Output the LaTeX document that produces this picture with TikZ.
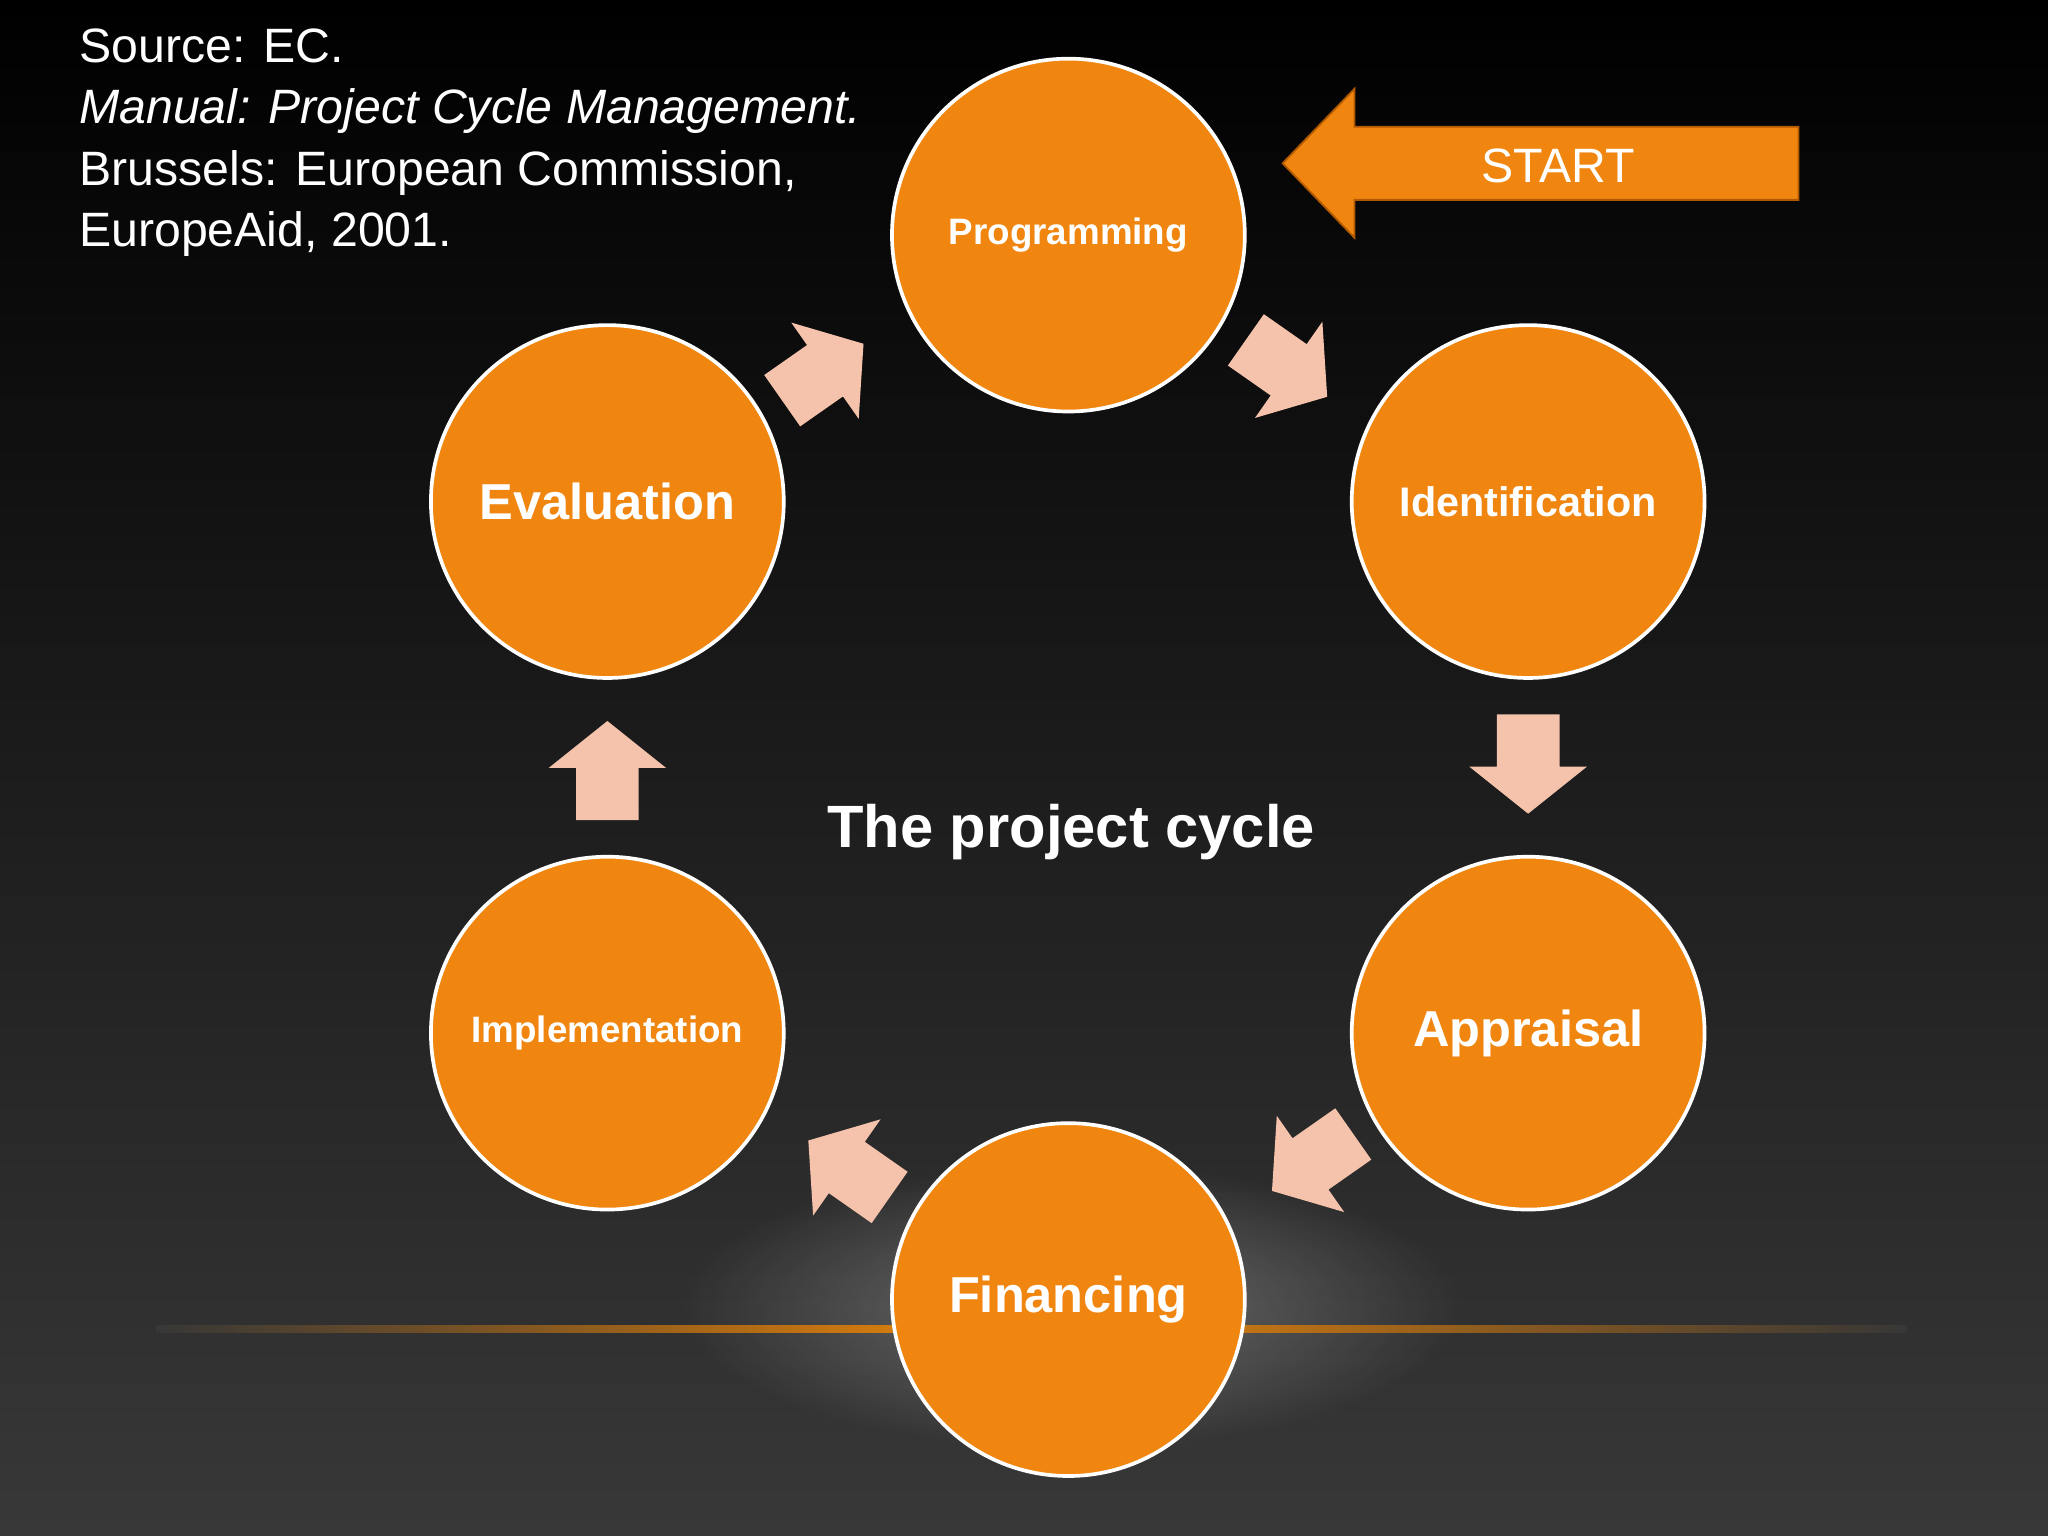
\documentclass[tikz,border=0pt]{standalone}
\usepackage{fontspec}
\setmainfont{Liberation Sans}
\usetikzlibrary{fadings}
\tikzfading[name=glowfade,inner color=transparent!0,outer color=transparent!100]
\definecolor{org}{HTML}{F0860F}
\definecolor{pink}{HTML}{F5C2AC}
\begin{document}
\begin{tikzpicture}[x=0.01cm,y=-0.01cm,
  phase/.style={circle,fill=org,draw=white,line width=0.8pt,minimum size=2.7cm,text=white,font=\bfseries}]
\useasboundingbox (0,0) rectangle (1568,1176);
\shade[top color=black,bottom color=black!78!white] (0,0) rectangle (1568,1176);
\fill[white,opacity=0.3,path fading=glowfade] (820,1000) ellipse (300 and 110);
\shade[left color=black!78!white,right color=orange!90!yellow,opacity=0.9] (120,1015) rectangle (784,1020);
\shade[right color=black!78!white,left color=orange!90!yellow,opacity=0.9] (784,1015) rectangle (1460,1020);
\node[phase,font=\bfseries\fontsize{8}{10}\selectfont] (prog) at (818,180) {Programming};
\node[phase,font=\bfseries\fontsize{9}{11}\selectfont] (iden) at (1170,384) {Identification};
\node[phase,font=\bfseries\fontsize{11}{13}\selectfont] (appr) at (1170,791) {Appraisal};
\node[phase,font=\bfseries\fontsize{11}{13}\selectfont] (fina) at (818,995) {Financing};
\node[phase,font=\bfseries\fontsize{8}{10}\selectfont] (impl) at (465,791) {Implementation};
\node[phase,font=\bfseries\fontsize{11}{13}\selectfont] (eval) at (465,384) {Evaluation};
\foreach \px/\py/\ang in {630/285/35, 985/282/-35, 1170/585/-90, 1005/890/-145, 650/895/-215, 465/590/90}{
  \fill[pink,shift={(\px,\py)},rotate=\ang] (-38,-24)--(2,-24)--(2,-45)--(38,0)--(2,45)--(2,24)--(-38,24)--cycle;
}
\fill[org,draw=orange!70!black,line width=0.4pt] (982,125)--(1037,68)--(1037,97)--(1377,97)--(1377,153)--(1037,153)--(1037,182)--cycle;
\node[text=white,font=\fontsize{10.5}{12}\selectfont] (start) at (1193,127) {START};
\node[text=white,font=\bfseries\fontsize{13}{15}\selectfont] (title) at (820,637) {The project cycle};
\node[text=white,anchor=north west,align=left,font=\fontsize{10.5}{13.4}\selectfont,inner sep=0pt] (src) at (60,21) {Source: EC.\\ \itshape Manual: Project Cycle Management.\\ Brussels: European Commission,\\ EuropeAid, 2001.};
\end{tikzpicture}
\end{document}
